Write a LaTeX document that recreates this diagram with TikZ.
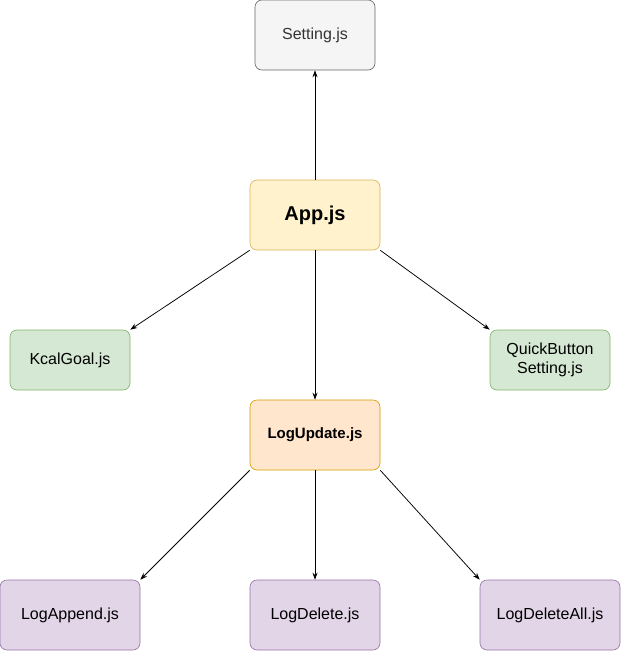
\documentclass[tikz,border=0pt]{standalone}
\usepackage{fontspec}
\setmainfont{Liberation Sans}
\usetikzlibrary{arrows.meta}
\definecolor{greyFill}{RGB}{245,245,245}
\definecolor{greyDraw}{RGB}{102,102,102}
\definecolor{yellowFill}{RGB}{255,242,204}
\definecolor{yellowDraw}{RGB}{214,182,86}
\definecolor{greenFill}{RGB}{213,232,212}
\definecolor{greenDraw}{RGB}{130,179,102}
\definecolor{orangeFill}{RGB}{255,230,204}
\definecolor{orangeDraw}{RGB}{215,155,0}
\definecolor{purpleFill}{RGB}{225,213,231}
\definecolor{purpleDraw}{RGB}{150,115,166}
\definecolor{textColor}{RGB}{51,51,51}
\tikzset{
  box/.style={rounded corners=7pt, inner sep=0pt, align=center, line width=0.6pt,
    font=\fontsize{16}{19}\selectfont},
  link/.style={draw=black, line width=0.75pt, -{Stealth[length=7pt,width=5pt]}}
}
\begin{document}
\begin{tikzpicture}[x=1pt,y=1pt]
\path[use as bounding box] (0,0) rectangle (621,-651);

\node[box, fill=greyFill, draw=greyDraw, text=textColor, minimum width=120, minimum height=70] (setting) at (315,-35) {Setting.js};
\node[box, fill=yellowFill, draw=yellowDraw, minimum width=130, minimum height=70, font=\fontsize{20}{24}\selectfont\bfseries] (app) at (315,-215) {App.js};
\node[box, fill=greenFill, draw=greenDraw, minimum width=120, minimum height=60] (kcal) at (70,-360) {KcalGoal.js};
\node[box, fill=greenFill, draw=greenDraw, minimum width=120, minimum height=60] (quick) at (550,-360) {QuickButton\\Setting.js};
\node[box, fill=orangeFill, draw=orangeDraw, minimum width=130, minimum height=70, font=\fontsize{15}{18}\selectfont\bfseries] (logupdate) at (315,-435) {LogUpdate.js};
\node[box, fill=purpleFill, draw=purpleDraw, minimum width=140, minimum height=70] (append) at (70,-615) {LogAppend.js};
\node[box, fill=purpleFill, draw=purpleDraw, minimum width=130, minimum height=70] (delete) at (315,-615) {LogDelete.js};
\node[box, fill=purpleFill, draw=purpleDraw, minimum width=140, minimum height=70] (deleteall) at (550,-615) {LogDeleteAll.js};

% connectors
\draw[link] (app.north) -- (setting.south);
\draw[link] (app.south west) -- (kcal.north east);
\draw[link] (app.south east) -- (quick.north west);
\draw[link] (app.south) -- (logupdate.north);
\draw[link] (logupdate.south west) -- (append.north east);
\draw[link] (logupdate.south) -- (delete.north);
\draw[link] (logupdate.south east) -- (deleteall.north west);
\end{tikzpicture}
\end{document}
